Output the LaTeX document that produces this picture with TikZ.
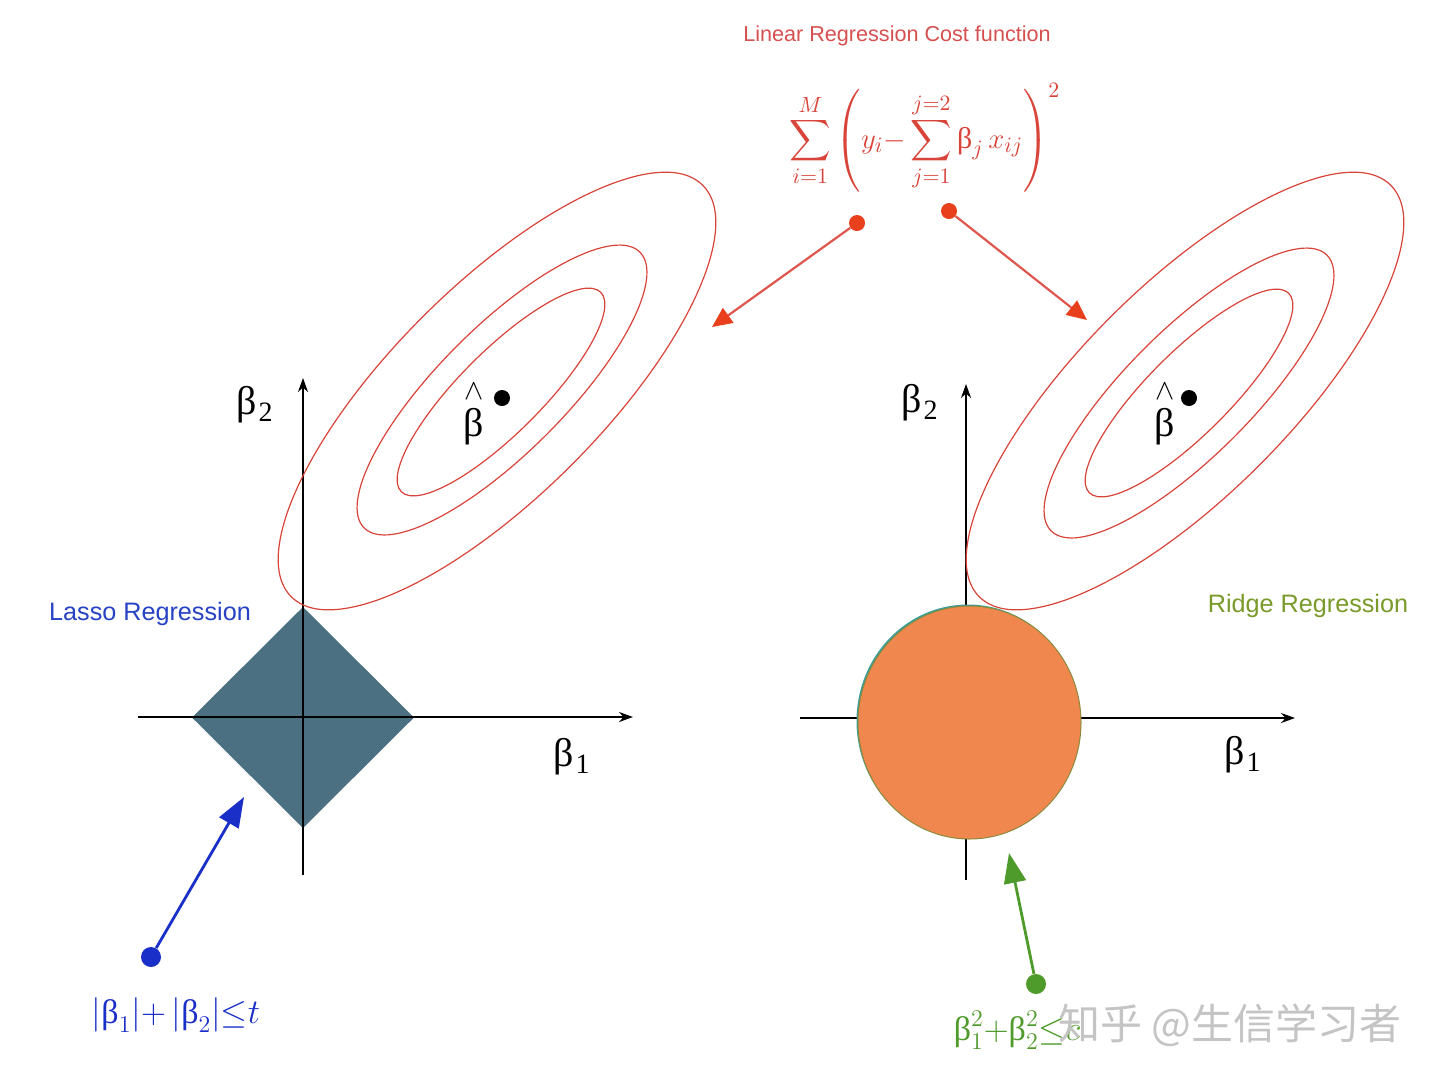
\documentclass[tikz,border=0pt]{standalone}
\usepackage{exscale}
\usepackage{fontspec}
\usepackage{xcolor}
\usepackage{tikz}
\usetikzlibrary{arrows.meta}
\newfontfamily\grk{Liberation Serif}
\newfontfamily\arial{Liberation Sans}
\newfontfamily\cjk{Noto Sans CJK SC}
\definecolor{costred}{HTML}{D9443A}
\definecolor{dotred}{HTML}{E8401C}
\definecolor{titlered}{HTML}{D65050}
\definecolor{lassoblue}{HTML}{1A2FC8}
\definecolor{lassotext}{HTML}{2743C4}
\definecolor{lassofill}{HTML}{4A7082}
\definecolor{ridgeorange}{HTML}{F0874F}
\definecolor{ridgeteal}{HTML}{3A9E9A}
\definecolor{ridgeedge}{HTML}{8C8A3C}
\definecolor{ridgetext}{HTML}{7A9A2A}
\definecolor{ridgegreen}{HTML}{4E9A2A}
\definecolor{markgray}{HTML}{C4C4C4}
\newcommand{\bt}{\mbox{\grk β}}
\tikzstyle{betaaxis} = [line width=0.9pt, -{Stealth[length=7pt,width=5pt]}]
\tikzstyle{contour} = [draw=costred, line width=0.6pt]
\tikzstyle{betalabel} = [inner sep=0pt, font=\grk\fontsize{20}{24}\selectfont]
\tikzstyle{regtitle} = [inner sep=0pt, font=\arial\fontsize{12.6}{15}\selectfont]
\tikzstyle{hatdot} = [circle, fill=black, inner sep=0pt, minimum size=8pt]
\tikzstyle{reddot} = [circle, fill=dotred, inner sep=0pt, minimum size=8pt]
\tikzstyle{redarrow} = [draw=costred!90, line width=1.1pt, -{Triangle[length=10pt,width=9pt,color=dotred]}]
\tikzstyle{bluedot} = [circle, fill=lassoblue, inner sep=0pt, minimum size=10pt]
\tikzstyle{bluearrow} = [draw=lassoblue, line width=1.4pt, -{Triangle[length=15pt,width=11pt]}]
\tikzstyle{greendot} = [circle, fill=ridgegreen, inner sep=0pt, minimum size=10pt]
\tikzstyle{greenarrow} = [draw=ridgegreen, line width=1.4pt, -{Triangle[length=15pt,width=11pt]}]
\tikzstyle{formula} = [inner sep=0pt, font=\fontsize{17}{20}\selectfont]

\begin{document}
\begin{tikzpicture}[x=0.5pt, y=-0.5pt]
    % Canvas
    \useasboundingbox (0,0) rectangle (1440,1084);
    \fill[white] (0,0) rectangle (1440,1084);

    % Lasso side: constraint region and axes
    \fill[lassofill] (192,717.5) -- (303,607) -- (414,717.5) -- (303,828) -- cycle;
    \coordinate (lx0) at (138,717);
    \coordinate (lx1) at (633,717);
    \coordinate (ly0) at (303,875);
    \coordinate (ly1) at (303,378);
    \draw [betaaxis] (lx0) -- (lx1);
    \draw [betaaxis] (ly0) -- (ly1);

    % Ridge side: axes and constraint region
    \coordinate (rx0) at (800,718);
    \coordinate (rx1) at (1295,718);
    \coordinate (ry0) at (966,880);
    \coordinate (ry1) at (966,384);
    \draw [betaaxis] (rx0) -- (rx1);
    \draw [betaaxis] (ry0) -- (ry1);
    \fill[ridgeteal] (968,721) ellipse [x radius=111.5, y radius=116.5];
    \filldraw[fill=ridgeorange, draw=ridgeedge, line width=0.5pt] (969.5,722.5) ellipse [x radius=111.5, y radius=116.5];

    % Cost contours
    \foreach \cx/\cy/\a/\b in {497/391/291/105, 502/390/195/63, 501/392/141/41,
                              1185/391/291/105, 1189/393/195/63, 1189/393/141/41}
        \draw [contour, shift={(\cx,\cy)}, rotate=45] (0,0) ellipse [x radius=\a, y radius=\b];

    % Least squares estimates
    \node (lhat) [hatdot] at (502,398) {};
    \node (lhatlab) [betalabel] at (474,412) {$\stackrel{\wedge}{\bt}$};
    \node (rhat) [hatdot] at (1189,398) {};
    \node (rhatlab) [betalabel] at (1165,412) {$\stackrel{\wedge}{\bt}$};

    % Axis labels
    \node (lb2) [betalabel] at (255,405) {β\kern1pt\textsubscript{2}};
    \node (lb1) [betalabel] at (572,757) {β\kern1pt\textsubscript{1}};
    \node (rb2) [betalabel] at (920,403) {β\kern1pt\textsubscript{2}};
    \node (rb1) [betalabel] at (1243,755) {β\kern1pt\textsubscript{1}};

    % Cost function
    \node (costtitle) [inner sep=0pt, font=\arial\fontsize{10.8}{13}\selectfont, text=titlered] at (897,36) {Linear Regression Cost function};
    \node (cost) [formula, font=\fontsize{15}{18}\selectfont, text=costred] at (925,138)
        {$\displaystyle\sum_{i=1}^{M}\left(y_i{-}\sum_{j=1}^{j=2}\bt_j\,x_{ij}\right)^{2}$};
    \node (costl) [reddot] at (857,223) {};
    \node (costr) [reddot] at (949,211) {};
    \coordinate (costlend) at (712,327);
    \coordinate (costrend) at (1087,320);
    \draw [redarrow] (costl) -- (costlend);
    \draw [redarrow] (costr) -- (costrend);

    % Titles
    \node (lasso) [regtitle, text=lassotext] at (150,614) {Lasso Regression};
    \node (ridge) [regtitle, text=ridgetext] at (1308,606) {Ridge Regression};

    % Constraints
    \node (lassodot) [bluedot] at (151,957) {};
    \coordinate (lassoend) at (244,797);
    \draw [bluearrow] (lassodot) -- (lassoend);
    \node (lassoeq) [formula, text=lassoblue] at (176,1015) {$|\bt_1|{+}\,|\bt_2|{\leq}t$};
    \node (ridgedot) [greendot] at (1036,984) {};
    \coordinate (ridgeend) at (1009,853);
    \draw [greenarrow] (ridgedot) -- (ridgeend);
    \node (ridgeeq) [formula, text=ridgegreen] at (1017,1030) {$\bt_1^2{+}\bt_2^2{\leq}c$};

    % Watermark
    \node (mark) [inner sep=0pt, font=\cjk\fontsize{21}{24}\selectfont, text=markgray] at (1230,1025) {知乎 @生信学习者};
\end{tikzpicture}
\end{document}
